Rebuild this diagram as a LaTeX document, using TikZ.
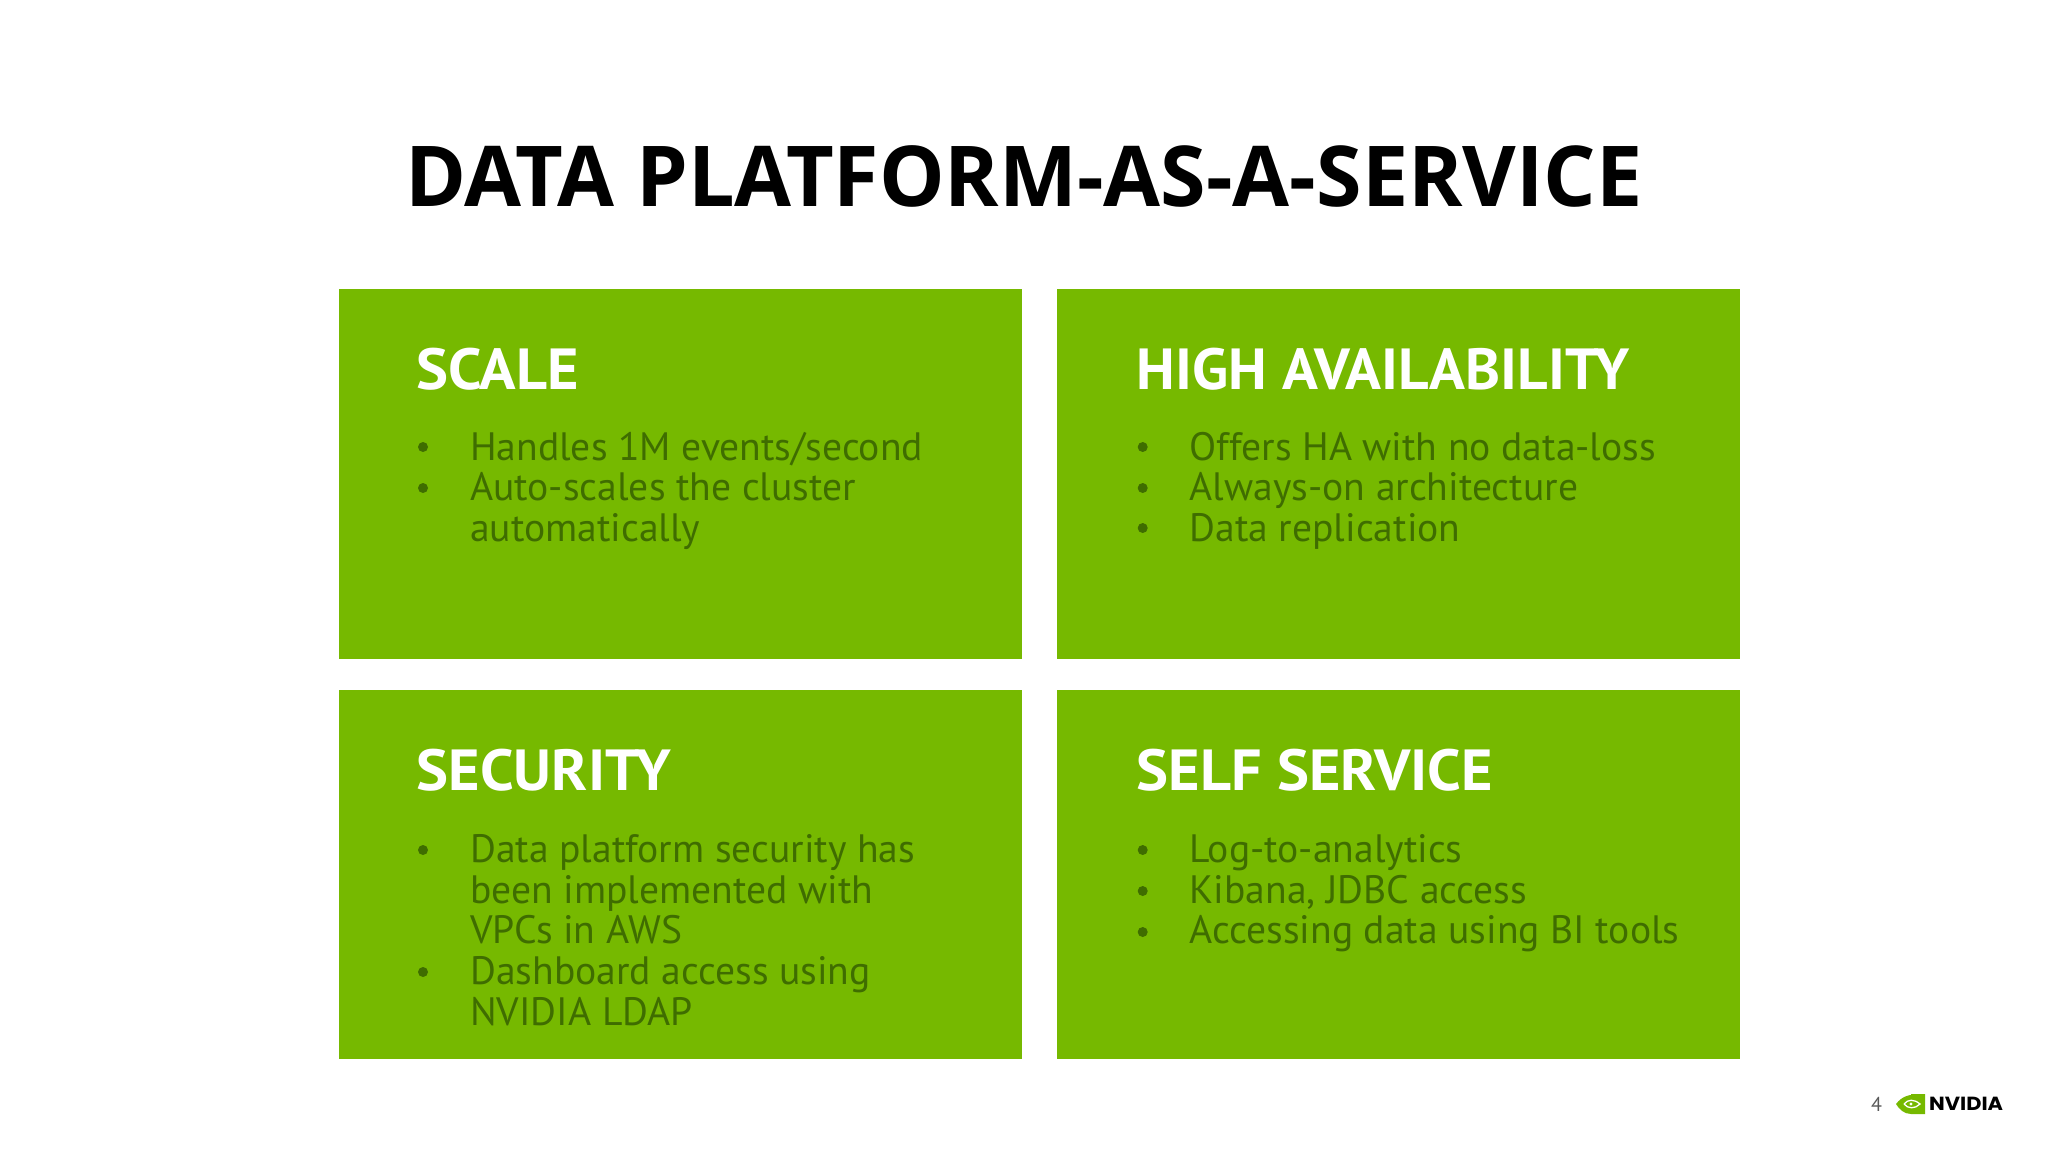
\documentclass[tikz,border=0pt]{standalone}
\usepackage{fontspec}
\setmainfont[FakeStretch=0.983]{Open Sans}
\newfontfamily\headfont[FakeStretch=1.04]{PT Sans}
\newfontfamily\bodyfont{PT Sans}
\newfontfamily\logofont[FakeStretch=1.1]{Poppins}
\definecolor{nvgreen}{HTML}{76B900}
\definecolor{bodygreen}{HTML}{3F6D00}
\tikzset{
  panel/.style={fill=nvgreen,draw=none,inner sep=0pt,minimum width=683pt,minimum height=369.6pt,anchor=north west},
  head/.style={anchor=base west,inner sep=0pt,text=white,font=\headfont\fontsize{58}{58}\selectfont\bfseries},
  item/.style={anchor=base west,inner sep=0pt,text=bodygreen,font=\bodyfont\fontsize{39.6}{39.6}\selectfont},
  dot/.style={circle,fill=bodygreen,draw=none,inner sep=0pt,minimum size=10pt},
}
\begin{document}
\begin{tikzpicture}[x=1pt,y=-1pt]
\useasboundingbox (0,0) rectangle (2048,1152);
\fill[white] (0,0) rectangle (2048,1152);
\node[anchor=base west,inner sep=0pt,font=\fontsize{84}{84}\selectfont\bfseries] (title) at (405,206) {DATA PLATFORM-AS-A-SERVICE};
\node[panel] (p1) at (338.5,288.7) {};
\node[panel] (p2) at (1056.6,288.7) {};
\node[panel] (p3) at (338.5,689.6) {};
\node[panel] (p4) at (1056.6,689.6) {};
\node[head] (h1) at (416.6,389) {SCALE};
\node[head] (h2) at (1136.5,389) {\scalebox{.984}[1]{HIGH AVAILABILITY}};
\node[head] (h3) at (416.6,790) {SECURITY};
\node[head] (h4) at (1136.5,790) {SELF SERVICE};
% panel 1
\node[dot] (d11) at (423,447) {};
\node[dot] (d12) at (423,488) {};
\node[item] (t11) at (470,460) {Handles 1M events/second};
\node[item] (t12) at (470,500) {Auto-scales the cluster};
\node[item] (t13) at (470,541) {automatically};
% panel 2
\node[dot] (d21) at (1142.7,447) {};
\node[dot] (d22) at (1142.7,488) {};
\node[dot] (d23) at (1142.7,528) {};
\node[item] (t21) at (1189.5,460) {Offers HA with no data-loss};
\node[item] (t22) at (1189.5,500) {Always-on architecture};
\node[item] (t23) at (1189.5,541) {Data replication};
% panel 3
\node[dot] (d31) at (423,850) {};
\node[dot] (d32) at (423,972) {};
\node[item] (t31) at (470,862.5) {Data platform security has};
\node[item] (t32) at (470,903.5) {been implemented with};
\node[item] (t33) at (470,943.5) {VPCs in AWS};
\node[item] (t34) at (470,984.5) {Dashboard access using};
\node[item] (t35) at (470,1025.5) {NVIDIA LDAP};
% panel 4
\node[dot] (d41) at (1142.7,850) {};
\node[dot] (d42) at (1142.7,891) {};
\node[dot] (d43) at (1142.7,932) {};
\node[item] (t41) at (1189.5,862.5) {Log-to-analytics};
\node[item] (t42) at (1189.5,903.5) {Kibana, JDBC access};
\node[item] (t43) at (1189.5,943.5) {Accessing data using BI tools};
% footer
\node[anchor=base west,inner sep=0pt,text=black!65,font=\bodyfont\fontsize{20}{20}\selectfont] (pg) at (1871,1111.5) {4};
\fill[nvgreen] (1896,1104) .. controls (1902,1096) and (1910,1095) .. (1911,1095) -- (1911,1094) -- (1925,1094) -- (1925,1114) -- (1911,1114) .. controls (1904,1114) and (1899,1109) .. cycle;
\draw[white,line width=1.3pt] (1904,1104) .. controls (1908,1099) and (1914,1099) .. (1920,1104) .. controls (1915,1109) and (1908,1109) .. (1904,1104);
\fill[white] (1911,1104) circle (1.6);
\node[anchor=base west,inner sep=0pt,text=black,font=\logofont\fontsize{19}{19}\selectfont\bfseries] (logo) at (1929,1110.5) {NVIDIA};
\end{tikzpicture}
\end{document}
